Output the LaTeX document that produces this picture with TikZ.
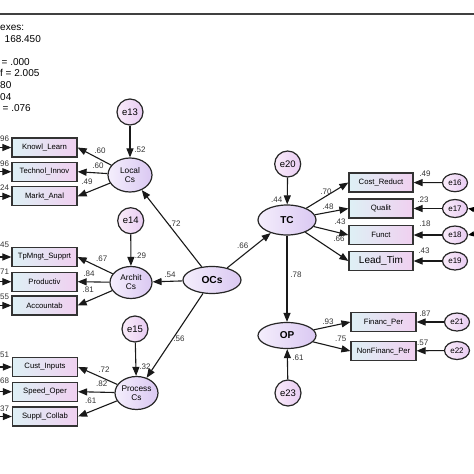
\documentclass[tikz,border=0pt]{standalone}
\usepackage{fontspec}
\setmainfont{Liberation Sans}
\usetikzlibrary{arrows.meta,shapes.geometric}

\definecolor{boxl}{RGB}{222,240,245}
\definecolor{boxr}{RGB}{240,208,240}
\definecolor{latl}{RGB}{244,238,252}
\definecolor{latr}{RGB}{218,200,242}
\definecolor{errl}{RGB}{250,236,250}
\definecolor{errr}{RGB}{232,204,242}

\begin{document}
\begin{tikzpicture}[x=1pt,y=1pt,yscale=-1,xscale=1,
  obs/.style={draw=black!80, line width=1.2pt, minimum width=65pt, minimum height=19pt, inner sep=0pt, left color=boxl, right color=boxr, font=\fontsize{7.7}{9}\selectfont},
  latent/.style={ellipse, draw=black!85, line width=1.2pt, inner sep=0pt, align=center, left color=latl, right color=latr, font=\fontsize{8.3}{9}\selectfont},
  errc/.style={circle, draw=black!85, line width=1.2pt, minimum size=26pt, inner sep=0pt, left color=errl, right color=errr, font=\fontsize{9.5}{10}\selectfont},
  errs/.style={ellipse, draw=black!85, line width=1.2pt, minimum width=25pt, minimum height=18pt, inner sep=0pt, left color=errl, right color=errr, font=\fontsize{8}{9}\selectfont},
  lbl/.style={inner sep=0pt, font=\fontsize{8}{9}\selectfont, text=black!80},
  fitx/.style={anchor=west, inner sep=0pt, font=\fontsize{10}{11}\selectfont},
  arr/.style={-{Triangle[length=9pt,width=7pt]}, line width=1.1pt, draw=black!90}]

\useasboundingbox (0,0) rectangle (474,474);
\clip (0,0) rectangle (474,474);

%Top rule
\coordinate (rulea) at (0,13.8);
\coordinate (ruleb) at (474,13.8);
\draw [line width=2.2pt, black!75] (rulea) -- (ruleb);

% Fit indexes
\node [fitx] (fit1) at (0,27.7) {exes:};
\node [fitx] (fit2) at (4.5,39) {168.450};
\node [fitx] (fit3) at (1.5,61.7) {= .000};
\node [fitx] (fit4) at (0,73) {f = 2.005};
\node [fitx] (fit5) at (0,85) {80};
\node [fitx] (fit6) at (0,96.7) {04};
\node [fitx] (fit7) at (2.5,108) {= .076};

% Latent variables
\node [latent, minimum width=44pt, minimum height=34pt] (local) at (130,175) {Local\\Cs};
\node [latent, minimum width=42pt, minimum height=32pt] (archit) at (131,282.5) {Archit\\Cs};
\node [latent, minimum width=43pt, minimum height=33pt] (process) at (136.5,393) {Process\\Cs};
\node [latent, minimum width=58pt, minimum height=27pt, font=\fontsize{10.2}{11}\bfseries] (ocs) at (212,280) {OCs};
\node [latent, minimum width=58pt, minimum height=30pt, font=\fontsize{10}{11}\bfseries] (tc) at (287,220) {TC};
\node [latent, minimum width=58pt, minimum height=26pt, font=\fontsize{10}{11}\bfseries] (op) at (287,335.5) {OP};

% Indicators
\node [obs] (kl) at (44.5,147.5) {Knowl\_Learn};
\node [obs] (ti) at (44.5,171.7) {Technol\_Innov};
\node [obs] (ma) at (44.5,196.3) {Markt\_Anal};
\node [obs] (tm) at (44.5,257) {TpMngt\_Supprt};
\node [obs] (pv) at (44.5,281.7) {Productiv};
\node [obs] (ac) at (44.5,305.5) {Accountab};
\node [obs] (ci) at (45,367) {Cust\_Inputs};
\node [obs] (so) at (45,391.7) {Speed\_Oper};
\node [obs] (sc) at (45,416.5) {Suppl\_Collab};
\node [obs, minimum width=64pt] (cr) at (381,182.5) {Cost\_Reduct};
\node [obs, minimum width=64pt] (qu) at (381,208.5) {Qualit};
\node [obs, minimum width=64pt] (fu) at (381,235) {Funct};
\node [obs, minimum width=64pt, font=\fontsize{10}{11}\selectfont] (lt) at (381,261) {Lead\_Tim};
\node [obs] (fp) at (383.5,322) {Financ\_Per};
\node [obs] (np) at (383.5,351) {NonFinanc\_Per};

% Error terms
\node [errc] (e13) at (130,112) {e13};
\node [errc] (e14) at (130.7,220.7) {e14};
\node [errc] (e15) at (135,329) {e15};
\node [errc] (e20) at (287.7,164) {e20};
\node [errc] (e23) at (288,393) {e23};
\node [errs] (e16) at (455,182.7) {e16};
\node [errs] (e17) at (455,208.5) {e17};
\node [errs] (e18) at (455,235) {e18};
\node [errs] (e19) at (455,261) {e19};
\node [errs] (e21) at (457,322) {e21};
\node [errs] (e22) at (457,350.5) {e22};
\coordinate (e1) at (-30,147.5);
\coordinate (e2) at (-30,171.7);
\coordinate (e3) at (-30,196.3);
\coordinate (e4) at (-30,257);
\coordinate (e5) at (-30,281.7);
\coordinate (e6) at (-30,305.5);
\coordinate (e7) at (-30,367);
\coordinate (e8) at (-30,391.7);
\coordinate (e9) at (-30,416.5);

%Straight Lines
\draw [arr] (e1) -- (kl);
\draw [arr] (e2) -- (ti);
\draw [arr] (e3) -- (ma);
\draw [arr] (e4) -- (tm);
\draw [arr] (e5) -- (pv);
\draw [arr] (e6) -- (ac);
\draw [arr] (e7) -- (ci);
\draw [arr] (e8) -- (so);
\draw [arr] (e9) -- (sc);
\draw [arr] (local) -- (kl.east);
\draw [arr] (local) -- (ti.east);
\draw [arr] (local) -- (ma.east);
\draw [arr] (archit) -- (tm.east);
\draw [arr] (archit) -- (pv.east);
\draw [arr] (archit) -- (ac.east);
\draw [arr] (process) -- (ci.east);
\draw [arr] (process) -- (so.east);
\draw [arr] (process) -- (sc.east);
\draw [arr] (e13) -- (local);
\draw [arr] (e14) -- (archit);
\draw [arr] (e15) -- (process);
\draw [arr] (ocs) -- (local);
\draw [arr] (ocs) -- (archit);
\draw [arr] (ocs) -- (process);
\draw [arr] (ocs) -- (tc);
\draw [arr] (e20) -- (tc);
\draw [arr] (tc) -- (cr.west);
\draw [arr] (tc) -- (qu.west);
\draw [arr] (tc) -- (fu.west);
\draw [arr] (tc) -- (lt.west);
\draw [arr] (e16) -- (cr);
\draw [arr] (e17) -- (qu);
\draw [arr] (e18) -- (fu);
\draw [arr] (e19) -- (lt);
\draw [arr] (tc) -- (op);
\draw [arr] (e23) -- (op);
\draw [arr] (op) -- (fp.west);
\draw [arr] (op) -- (np.west);
\draw [arr] (e21) -- (fp);
\draw [arr] (e22) -- (np);
%Covariance
\draw [{Triangle[length=6pt,width=5pt]}-{Triangle[length=6pt,width=5pt]}, line width=1.1pt] (e17.east) .. controls (500,214) and (500,229) .. (e18.east);

% Text Node
\node [lbl, anchor=west] (r1) at (0,139) {96};
\node [lbl, anchor=west] (r2) at (0,163.5) {96};
\node [lbl, anchor=west] (r3) at (0,188) {24};
\node [lbl, anchor=west] (r4) at (0,245) {45};
\node [lbl, anchor=west] (r5) at (0,271.7) {71};
\node [lbl, anchor=west] (r6) at (0,296.7) {55};
\node [lbl, anchor=west] (r7) at (0,355) {51};
\node [lbl, anchor=west] (r8) at (0,380.7) {68};
\node [lbl, anchor=west] (r9) at (0,409) {37};
\node [lbl] (l1) at (100,150.7) {.60};
\node [lbl] (l2) at (98,166) {.60};
\node [lbl] (l3) at (87,181.7) {.49};
\node [lbl] (l4) at (140,150) {.52};
\node [lbl] (l5) at (101.7,258.3) {.67};
\node [lbl] (l6) at (89,273.3) {.84};
\node [lbl] (l7) at (88.3,290) {.81};
\node [lbl] (l8) at (140.5,256) {.29};
\node [lbl] (l9) at (104,370) {.72};
\node [lbl] (l10) at (101.7,383.3) {.82};
\node [lbl] (l11) at (90.7,400.7) {.61};
\node [lbl] (l12) at (145,367) {.32};
\node [lbl] (l13) at (175,224) {.72};
\node [lbl] (l14) at (170,274.3) {.54};
\node [lbl] (l15) at (179,339) {.56};
\node [lbl] (l16) at (242.7,245.7) {.66};
\node [lbl] (l17) at (276.7,199.3) {.44};
\node [lbl] (l18) at (326,191.7) {.70};
\node [lbl] (l19) at (328,206.7) {.48};
\node [lbl] (l20) at (340,221.7) {.43};
\node [lbl] (l21) at (339,238.3) {.66};
\node [lbl] (l22) at (296,275) {.78};
\node [lbl] (l23) at (425,174) {.49};
\node [lbl] (l24) at (423,200) {.23};
\node [lbl] (l25) at (425,224) {.18};
\node [lbl] (l26) at (424,250.7) {.43};
\node [lbl] (l27) at (328,321.7) {.93};
\node [lbl] (l28) at (340.7,338.3) {.75};
\node [lbl] (l29) at (298,358) {.61};
\node [lbl] (l30) at (425,313.3) {.87};
\node [lbl] (l31) at (422.7,342.7) {.57};

\end{tikzpicture}
\end{document}
